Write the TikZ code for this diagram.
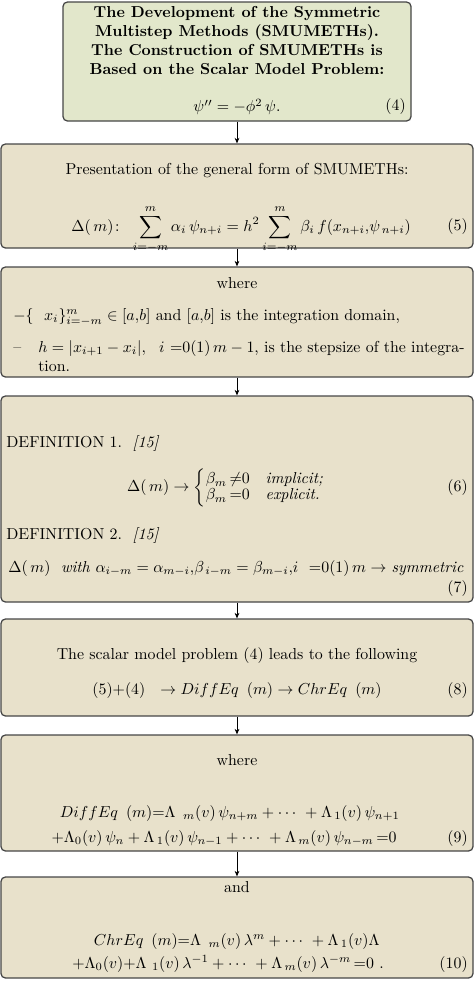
\documentclass[tikz,border=0pt]{standalone}
\usepackage{amsmath,amssymb}
\usetikzlibrary{fit,arrows.meta}
\definecolor{topfill}{RGB}{226,231,203}
\definecolor{boxfill}{RGB}{232,225,203}
\definecolor{boxline}{RGB}{70,70,70}
\tikzset{
  box/.style={draw=boxline, line width=0.8pt, rounded corners=2.8pt, fill=boxfill, inner sep=0pt},
  topbox/.style={box, fill=topfill},
  txt/.style={inner sep=0pt, font=\normalsize},
  eqno/.style={inner sep=0pt, anchor=east},
  arr/.style={draw=black, line width=0.5pt, -{Stealth[length=3.5pt,width=3pt]}}
}
\begin{document}
\begin{tikzpicture}[x=0.63pt,y=-0.63pt]
\useasboundingbox (0,0) rectangle (474,985);
% boxes
\node[topbox, fit={(63,2) (411,121)}] (b1) {};
\node[box, fit={(1,144) (473,248)}] (b2) {};
\node[box, fit={(1,267) (473,377)}] (b3) {};
\node[box, fit={(1,396) (473,602)}] (b4) {};
\node[box, fit={(1,619) (473,716)}] (b5) {};
\node[box, fit={(1,735) (473,851)}] (b6) {};
\node[box, fit={(1,877) (473,978)}] (b7) {};
% arrows
\draw[arr] (b1) -- (b2);
\draw[arr] (b2) -- (b3);
\draw[arr] (b3) -- (b4);
\draw[arr] (b4) -- (b5);
\draw[arr] (b5) -- (b6);
\draw[arr] (b6) -- (b7);
% box 1
\node[txt, align=center, font=\normalsize\bfseries, anchor=north] (t1) at (237,6)
  {The Development of the Symmetric\\Multistep Methods (SMUMETHs).\\The Construction of SMUMETHs is\\Based on the Scalar Model Problem:};
\node[txt] (e4) at (237,107) {$\psi''=-\phi^2\,\psi.$};
\node[eqno] (n4) at (406,107) {(4)};
% box 2
\node[txt] (t2) at (237,171) {Presentation of the general form of SMUMETHs:};
\node[txt, anchor=west] (e5) at (71,229) {$\displaystyle \Delta(\,m)\colon\ \sum_{i=-m}^{m}\alpha_i\,\psi_{n+i}=h^2\sum_{i=-m}^{m}\beta_i\,f(x_{n+i}{,}\psi_{\,n+i})$};
\node[eqno] (n5) at (468,227) {(5)};
% box 3
\node[txt] (t3) at (237,283) {where};
\node[txt, anchor=base west] (l1) at (13,320) {$-\{\ \ x_i\}_{i=-m}^{m}\in[a,\!b]$ and $[a,\!b]$ is the integration domain,};
\node[txt, anchor=base west] (d2) at (13,352) {--};
\node[txt, anchor=base west] (l2) at (38,352) {$h=|x_{i+1}-x_i|,\ \ i\ {=}0(1)\,m-1$, is the stepsize of the integra-};
\node[txt, anchor=base west] (l3) at (38,371) {tion.};
% box 4
\node[txt, anchor=base west] (def1) at (6,447) {DEFINITION 1.\ \ \textit{[15]}};
\node[txt] (e6) at (226,488) {$\Delta(\,m)\to\left\{\begin{array}{@{}l@{\quad}l@{}}\beta_m\,{\neq}0 & \textit{implicit;}\\[-2pt] \beta_m\,{=}0 & \textit{explicit.}\end{array}\right.$};
\node[eqno] (n6) at (468,488) {(6)};
\node[txt, anchor=base west] (def2) at (6,539) {DEFINITION 2.\ \ \textit{[15]}};
\node[txt, anchor=base west] (e7) at (8,572) {$\Delta(\,m)$\ \ \textit{with} $\alpha_{i-m}=\alpha_{m-i}{,}\beta_{\,i-m}=\beta_{m-i}{,}i\ \ {=}0(1)\,m\to$ \textit{symmetric}};
\node[eqno, anchor=base east] (n7) at (468,592) {(7)};
% box 5
\node[txt] (t5) at (237,656) {The scalar model problem (4) leads to the following};
\node[txt] (e8) at (237,691) {$(5){+}(4)\ \ \to DiffEq\ \,(m)\to ChrEq\ \,(m)$};
\node[eqno] (n8) at (468,691) {(8)};
% box 6
\node[txt] (t6) at (237,760) {where};
\node[txt, anchor=base east] (e9a) at (400,817) {$DiffEq\ \,(m){=}\Lambda_{\ \,m}(v)\,\psi_{n+m}+\cdots\ +\Lambda_{\,1}(v)\,\psi_{n+1}$};
\node[txt, anchor=base east] (e9b) at (397,842) {$+\Lambda_0(v)\,\psi_n+\Lambda_{\,1}(v)\,\psi_{n-1}+\cdots\ +\Lambda_{\,m}(v)\,\psi_{n-m}\,{=}0$};
\node[eqno, anchor=base east] (n9) at (468,842) {(9)};
% box 7
\node[txt] (t7) at (237,887) {and};
\node[txt, anchor=base east] (e10a) at (380,945) {$ChrEq\ \,(m){=}\Lambda_{\ \,m}(v)\,\lambda^m+\cdots\ +\Lambda_{\,1}(v)\Lambda$};
\node[txt, anchor=base east] (e10b) at (384,968) {$+\Lambda_0(v){+}\Lambda_{\ 1}(v)\,\lambda^{-1}+\cdots\ +\Lambda_{\,m}(v)\,\lambda^{-m}\,{=}0\ .$};
\node[eqno, anchor=base east] (n10) at (468,968) {(10)};
\end{tikzpicture}
\end{document}
